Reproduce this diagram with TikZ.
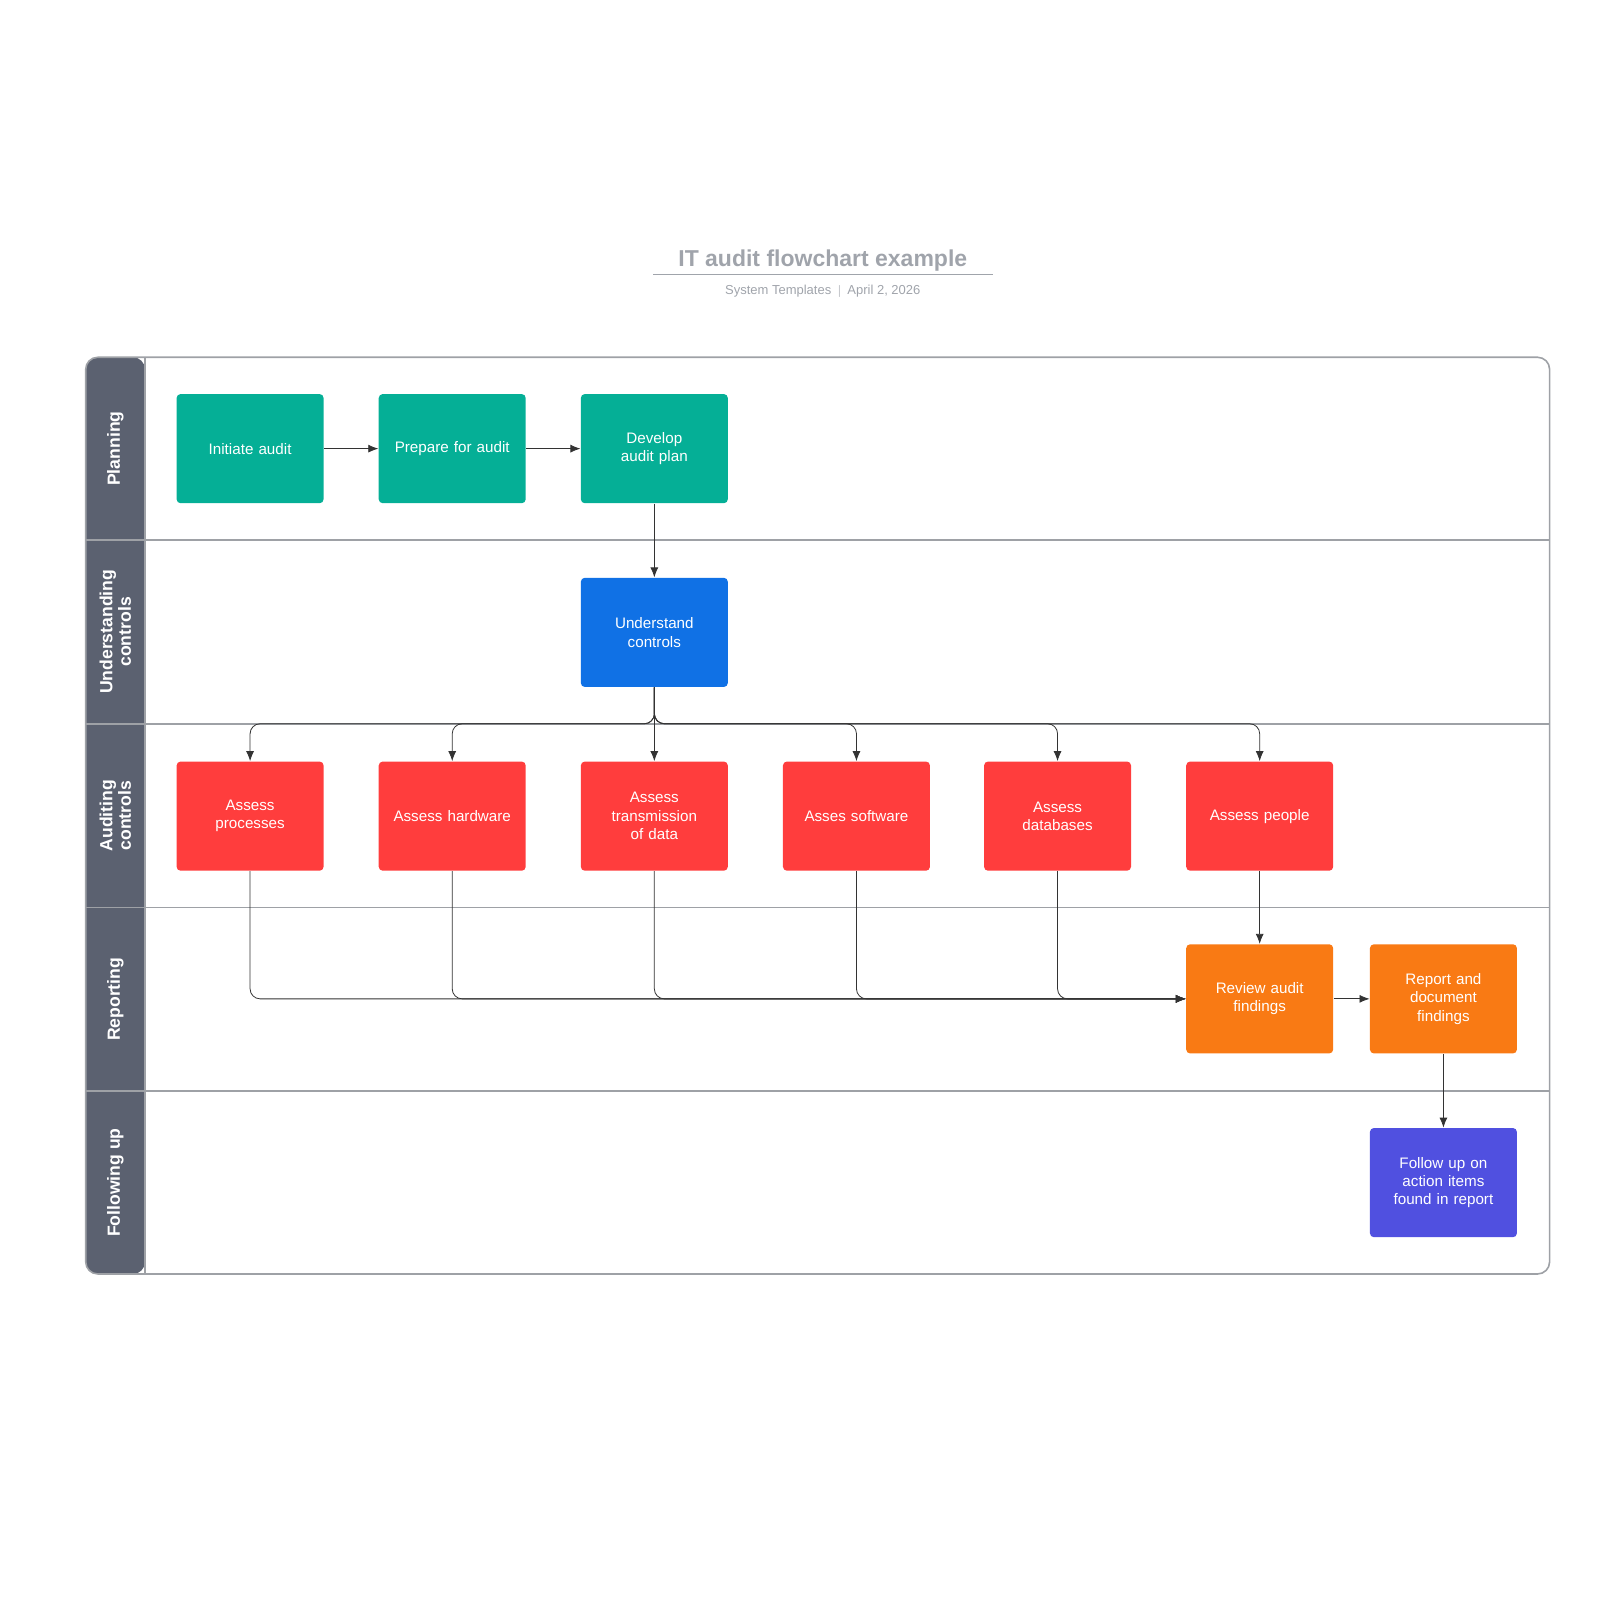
\documentclass[tikz,border=0pt]{standalone}
\usepackage{fontspec}
\setmainfont{Liberation Sans}
\usetikzlibrary{arrows.meta,positioning}
\definecolor{laneHead}{HTML}{5B6170}
\definecolor{laneLine}{HTML}{9EA1A6}
\definecolor{plan}{HTML}{05AF96}
\definecolor{ctrl}{HTML}{1071E5}
\definecolor{audit}{HTML}{FF3D3D}
\definecolor{report}{HTML}{F97A14}
\definecolor{follow}{HTML}{5050E0}
\definecolor{titleGray}{HTML}{A0A4AB}
\tikzset{
  task/.style={rounded corners=2pt, minimum width=73.5pt, minimum height=54.6pt,
    text width=60pt, align=center, text=white, font=\fontsize{7.6}{9.2}\selectfont},
  flow/.style={draw=black!80, -{Latex[length=5pt,width=4pt]}, rounded corners=5pt, line width=0.4pt},
  lanelabel/.style={rotate=90, text=white, align=center, font=\bfseries\fontsize{8.8}{9.2}\selectfont}
}
\begin{document}
\hyphenpenalty=10000 \exhyphenpenalty=10000
\begin{tikzpicture}[x=0.5104pt, y=-0.5104pt]
    \useasboundingbox (0,0) rectangle (1567.4,1567.4);
    % Title
    \node[text=titleGray, font=\bfseries\fontsize{11.5}{12}\selectfont] (title) at (806,255) {IT audit flowchart example};
    \draw[titleGray, line width=0.8pt] (640,269) -- (973,269);
    \node[text=titleGray, font=\fontsize{6.5}{7}\selectfont] (sub) at (806,285) {System Templates \,$|$\, April 2, 2026};
    % Lanes
    \fill[laneHead, rounded corners=6pt] (84,350) rectangle (142,1248);
    \draw[laneLine, line width=0.8pt, rounded corners=6pt] (84,350) rectangle (1518,1248);
    \foreach \yy in {529,709,889,1069}
      \draw[laneLine, line width=0.8pt] (84,\yy) -- (1518,\yy);
    \draw[laneLine, line width=0.8pt] (142,350) -- (142,1248);
    \node[lanelabel] (l1) at (113,439.5) {Planning};
    \node[lanelabel] (l2) at (113,619) {Understanding\\controls};
    \node[lanelabel] (l3) at (113,799) {Auditing\\controls};
    \node[lanelabel] (l4) at (113,979) {Reporting};
    \node[lanelabel] (l5) at (113,1158.5) {Following up};
    % Planning
    \node[task, fill=plan] (init) at (245,439.5) {Initiate audit};
    \node[task, fill=plan] (prep) at (443,439.5) {Prepare for audit};
    \node[task, fill=plan] (dev) at (641,439.5) {Develop audit plan};
    % Understanding controls
    \node[task, fill=ctrl] (uc) at (641,619.5) {Understand controls};
    % Auditing controls
    \node[task, fill=audit] (ap) at (245,799.5) {Assess processes};
    \node[task, fill=audit] (ah) at (443,799.5) {Assess hardware};
    \node[task, fill=audit] (at) at (641,799.5) {Assess transmission of data};
    \node[task, fill=audit] (as) at (839,799.5) {Asses software};
    \node[task, fill=audit] (ad) at (1036,799.5) {Assess databases};
    \node[task, fill=audit] (apl) at (1234,799.5) {Assess people};
    % Reporting and following up
    \node[task, fill=report] (rev) at (1234,978.5) {Review audit findings};
    \node[task, fill=report] (rep) at (1414,978.5) {Report and document findings};
    \node[task, fill=follow] (fol) at (1414,1158.5) {Follow up on action items found in report};
    % Connectors
    \draw[flow] (init) -- (prep);
    \draw[flow] (prep) -- (dev);
    \draw[flow] (dev) -- (uc);
    \coordinate (bus) at (641,709);
    \foreach \n in {ap,ah,at,as,ad,apl}
      \draw[flow] (uc.south) -- (bus) -| (\n.north);
    \foreach \n in {ap,ah,at,as,ad}
      \draw[flow] (\n.south) |- (rev.west);
    \draw[flow] (apl) -- (rev);
    \draw[flow] (rev) -- (rep);
    \draw[flow] (rep) -- (fol);
\end{tikzpicture}
\end{document}
